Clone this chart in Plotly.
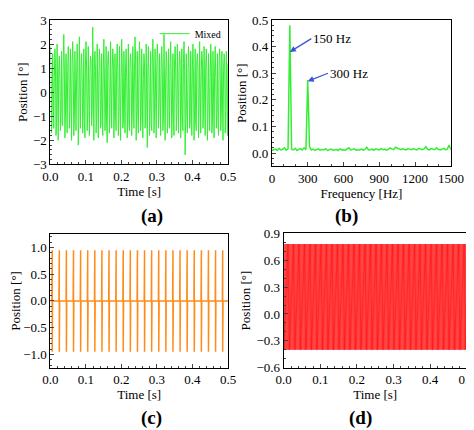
import plotly.graph_objects as go
import numpy as np

# (a) mixed signal: alternating peak highs / lows
a_highs = [1.9, 1.6, 1.8, 2.0, 1.5, 1.7, 2.4, 1.6, 1.9, 1.8, 2.1, 1.7, 2.0, 2.3, 1.6, 1.8, 2.1, 1.9, 1.5, 2.7,
           1.7, 2.0, 1.8, 1.6, 2.2, 1.9, 1.7, 2.1, 1.8, 1.6, 2.0, 1.9, 2.2, 1.7, 1.8, 2.0, 1.6, 1.9, 2.3, 1.7,
           2.1, 1.8, 1.6, 2.0, 1.9, 1.7, 2.2, 1.8, 2.0, 1.6, 1.9, 2.4, 1.7, 1.8, 2.1, 1.6, 1.9, 2.0, 1.7, 1.8,
           2.1, 1.6, 1.9, 1.7, 2.0, 1.8, 1.6, 2.1, 1.7, 1.9, 1.8, 1.6, 2.0, 1.7, 1.9, 1.6, 1.8, 1.7, 1.6, 1.7]
a_lows = [-1.7, -1.5, -1.8, -2.0, -1.6, -1.4, -1.9, -1.7, -1.5, -2.0, -1.8, -1.6, -2.2, -1.5, -1.7, -1.9, -1.6, -1.8, -1.4, -2.0,
          -1.7, -1.9, -1.5, -1.8, -1.6, -2.1, -1.7, -1.5, -1.9, -1.6, -1.8, -2.0, -1.5, -1.7, -1.9, -1.6, -1.8, -1.5, -2.0, -1.7,
          -1.6, -1.9, -1.5, -2.3, -1.8, -1.6, -1.7, -1.9, -1.5, -1.8, -1.6, -2.0, -1.7, -1.5, -1.9, -1.8, -1.6, -1.7, -1.9, -1.6,
          -2.6, -1.7, -1.5, -1.8, -2.0, -1.6, -1.9, -1.7, -1.5, -1.8, -2.0, -1.6, -1.7, -1.9, -1.5, -1.8, -1.6, -2.0, -1.7, -1.8]
# inner swings between the big peaks
a_inner = [0.9, -0.8, 1.2, -1.1, 0.6, -1.3, 1.0, -0.7, 1.3, -0.9]

# (b) spectrum, 15 Hz bins from 0 to 1500
b_vals = [0.01, 0.012, 0.015, 0.01, 0.018, 0.012, 0.014, 0.02, 0.011, 0.016, 0.48, 0.015, 0.012, 0.018, 0.01, 0.014, 0.017, 0.012, 0.02, 0.013,
          0.275, 0.025, 0.012, 0.015, 0.01, 0.013, 0.016, 0.011, 0.014, 0.012, 0.017, 0.01, 0.013, 0.015, 0.011, 0.012, 0.014, 0.01, 0.016, 0.012,
          0.013, 0.011, 0.015, 0.02, 0.012, 0.014, 0.016, 0.011, 0.013, 0.012, 0.015, 0.011, 0.014, 0.022, 0.012, 0.013, 0.015, 0.011, 0.016, 0.014,
          0.012, 0.018, 0.013, 0.015, 0.011, 0.014, 0.02, 0.016, 0.013, 0.022, 0.018, 0.015, 0.013, 0.016, 0.014, 0.012, 0.017, 0.015, 0.013, 0.016,
          0.014, 0.012, 0.018, 0.015, 0.013, 0.016, 0.025, 0.014, 0.012, 0.017, 0.015, 0.013, 0.02, 0.014, 0.012, 0.016, 0.018, 0.013, 0.015, 0.03, 0.014]

# (c) impulse times and amplitude
c_times = [0.005, 0.025, 0.045, 0.065, 0.085, 0.105, 0.125, 0.145, 0.165, 0.185, 0.205, 0.225, 0.245,
           0.265, 0.285, 0.305, 0.325, 0.345, 0.365, 0.385, 0.405, 0.425, 0.445, 0.465, 0.485]
c_amp = 0.95

# (d) 300 Hz wave: peak, trough, shoulder
d_cycles = 150
d_peak, d_trough, d_shoulder = 0.78, -0.4, -0.2

green = "#33ee33"
orange = "#ff8c1a"
red = "#ff0000"
serif = "Liberation Serif, Times New Roman, DejaVu Serif, serif"
font = dict(family=serif, size=13, color="black")

fig = go.Figure()

ya = []
for i, (h, l) in enumerate(zip(a_highs, a_lows)):
    ya += [h, a_inner[i % len(a_inner)], l, a_inner[(i + 3) % len(a_inner)]]
xa = np.linspace(0, 0.5, len(ya))
fig.add_trace(go.Scatter(x=xa, y=ya, mode="lines", line=dict(color=green, width=1), name="Mixed",
                         xaxis="x", yaxis="y", showlegend=True))

xb = np.linspace(0, 1500, len(b_vals))
fig.add_trace(go.Scatter(x=xb, y=b_vals, mode="lines", line=dict(color=green, width=1.5),
                         xaxis="x2", yaxis="y2", showlegend=False))

xc, yc = [0], [0]
for t in c_times:
    xc += [t - 0.001, t, t, t + 0.001]
    yc += [0, c_amp, -c_amp, 0]
xc.append(0.5)
yc.append(0)
fig.add_trace(go.Scatter(x=xc, y=yc, mode="lines", line=dict(color=orange, width=1.5),
                         xaxis="x3", yaxis="y3", showlegend=False))

yd = [d_peak, d_trough, d_shoulder, d_trough] * d_cycles
xd = np.linspace(0, 0.5, len(yd))
fig.add_trace(go.Scatter(x=xd, y=yd, mode="lines", line=dict(color=red, width=0.7),
                         xaxis="x4", yaxis="y4", showlegend=False))

ax = dict(showline=True, mirror=True, linecolor="black", linewidth=1, ticks="inside", ticklen=4,
          showgrid=False, zeroline=False, tickfont=font, title_font=font,
          minor=dict(ticks="inside", ticklen=2, showgrid=False))

fig.update_layout(
    width=474, height=430, margin=dict(l=0, r=0, t=0, b=0),
    plot_bgcolor="white", paper_bgcolor="white", font=font,
    xaxis=dict(ax, domain=[0.076, 0.468], range=[0, 0.5], dtick=0.1, tickformat=".1f",
               title=dict(text="Time [s]", standoff=2), anchor="y"),
    yaxis=dict(ax, domain=[0.640, 0.988], range=[-3, 3], dtick=1,
               title=dict(text="Position [°]", standoff=2), anchor="x"),
    xaxis2=dict(ax, domain=[0.565, 0.960], range=[0, 1500], dtick=300,
                title=dict(text="Frequency [Hz]", standoff=2), anchor="y2"),
    yaxis2=dict(ax, domain=[0.635, 0.988], range=[-0.05, 0.5], dtick=0.1, tickformat=".1f",
                title=dict(text="Position [°]", standoff=2), anchor="x2"),
    xaxis3=dict(ax, domain=[0.076, 0.468], range=[0, 0.5], dtick=0.1, tickformat=".1f",
                title=dict(text="Time [s]", standoff=0), anchor="y3"),
    yaxis3=dict(ax, domain=[0.15, 0.472], range=[-1.25, 1.25], dtick=0.5, tickformat=".1f",
                title=dict(text="Position [°]", standoff=2), anchor="x3"),
    xaxis4=dict(ax, domain=[0.591, 0.995], range=[0, 0.5], dtick=0.1, tickformat=".1f",
                title=dict(text="Time [s]", standoff=0), anchor="y4"),
    yaxis4=dict(ax, domain=[0.15, 0.474], range=[-0.6, 0.9], dtick=0.3, tickformat=".1f",
                title=dict(text="Position [°]", standoff=2), anchor="x4"),
    legend=dict(x=0.465, y=0.99, xanchor="right", yanchor="top", bgcolor="rgba(0,0,0,0)",
                font=dict(family=serif, size=10), itemwidth=30),
)

fig.add_annotation(x=150, y=0.38, ax=330, ay=0.43, xref="x2", yref="y2", axref="x2", ayref="y2",
                   text="150 Hz", showarrow=True, arrowhead=2, arrowcolor="#3355dd", arrowwidth=1.2,
                   xanchor="left", font=font)
fig.add_annotation(x=300, y=0.27, ax=470, ay=0.3, xref="x2", yref="y2", axref="x2", ayref="y2",
                   text="300 Hz", showarrow=True, arrowhead=2, arrowcolor="#3355dd", arrowwidth=1.2,
                   xanchor="left", font=font)

for lbl, x, y in [("(a)", 0.272, 0.515), ("(b)", 0.76, 0.515), ("(c)", 0.272, 0.028), ("(d)", 0.79, 0.028)]:
    fig.add_annotation(x=x, y=y, xref="paper", yref="paper", text="<b>" + lbl + "</b>", showarrow=False,
                       yanchor="middle", font=dict(family=serif, size=19, color="black"))

fig.write_html("out.html")
